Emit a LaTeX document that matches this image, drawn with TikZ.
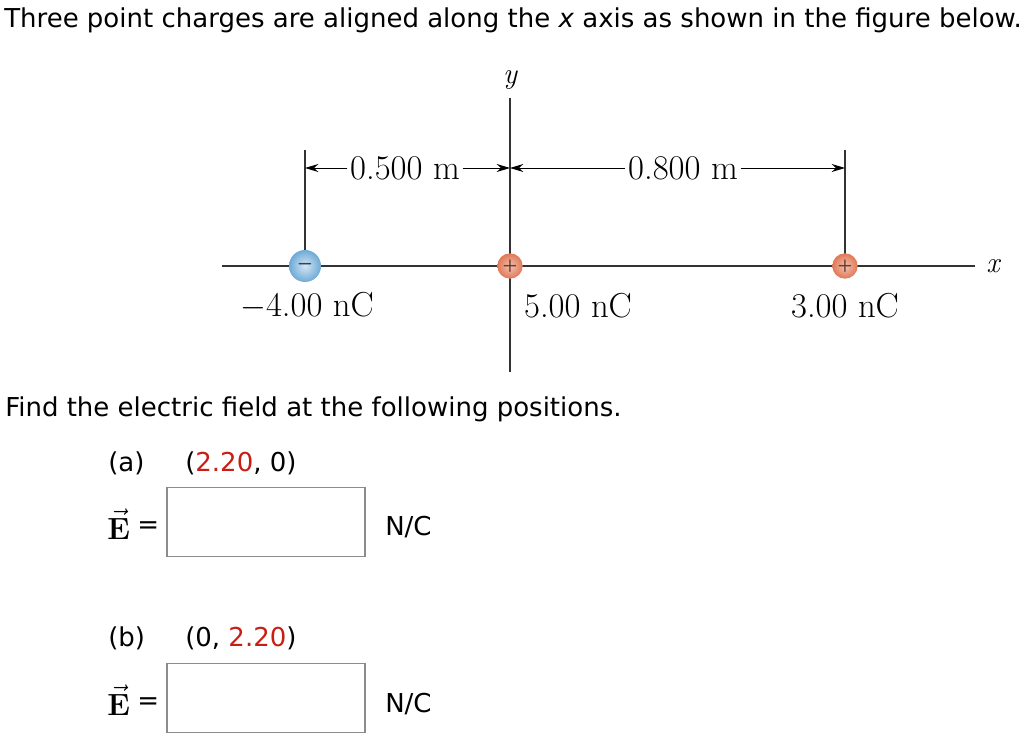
\documentclass[tikz,border=0pt]{standalone}
\usepackage{fontspec}
\setmainfont{Latin Modern Roman}
\newfontfamily\uifont{DejaVu Sans}
\usetikzlibrary{arrows.meta}
\definecolor{ansred}{RGB}{200,30,20}
\definecolor{negc}{RGB}{110,170,215}
\definecolor{posc}{RGB}{225,120,85}
\tikzset{
  ui/.style={font=\uifont\fontsize{19.5}{23}\selectfont, anchor=west, inner sep=0},
  lab/.style={font=\fontsize{26}{30}\selectfont, inner sep=0},
  dim/.style={-{Stealth[length=10pt,width=6pt]}, line width=0.7pt},
  ax/.style={line width=1pt, black!80},
  ansbox/.style={draw=black!45, line width=0.8pt, minimum width=148.5pt, minimum height=52pt, inner sep=0},
  charge/.style={circle, inner sep=0, font=\sffamily\bfseries\fontsize{13}{13}\selectfont},
  evec/.style={font=\fontsize{23}{26}\selectfont, anchor=west, inner sep=0}
}
\begin{document}
\begin{tikzpicture}[x=0.75pt,y=-0.75pt]
\useasboundingbox (0,0) rectangle (1036,748);
\node[ui] (title) at (4,20) {Three point charges are aligned along the \textit{x} axis as shown in the figure below.};
% axes
\coordinate (xl) at (222,266); \coordinate (xr) at (975,266);
\draw[ax] (xl) -- (xr);
\node[lab, font=\itshape\fontsize{22}{26}\selectfont] (xlab) at (993,266) {x};
\coordinate (yt) at (510,98); \coordinate (yb) at (510,372);
\draw[ax] (yt) -- (yb);
\node[lab, font=\itshape\fontsize{22}{26}\selectfont] (ylab) at (510,80) {y};
% ticks
\coordinate (t1a) at (305,150); \coordinate (t1b) at (305,256);
\coordinate (t2a) at (845,150); \coordinate (t2b) at (845,256);
\draw[ax] (t1a) -- (t1b);
\draw[ax] (t2a) -- (t2b);
% dimensions
\node[lab, inner xsep=2pt] (d1) at (405,168) {0.500 m};
\node[lab, inner xsep=2pt] (d2) at (683,168) {0.800 m};
\coordinate (p1) at (305,168); \coordinate (p0) at (510,168); \coordinate (p2) at (845,168);
\draw[dim] (d1.west) -- (p1);
\draw[dim] (d1.east) -- (p0);
\draw[dim] (d2.west) -- (p0);
\draw[dim] (d2.east) -- (p2);
% charges
\node[charge, minimum size=24pt, shade, inner color=negc!30, outer color=negc, text=negc!40!black] (q1) at (305,266) {\textminus};
\node[charge, minimum size=19pt, shade, inner color=posc!45, outer color=posc, text=posc!50!black] (q2) at (510,266) {+};
\node[charge, minimum size=19pt, shade, inner color=posc!45, outer color=posc, text=posc!50!black] (q3) at (845,266) {+};
\node[lab] (l1) at (307,306) {$-$4.00 nC};
\node[lab] (l2) at (578,306) {5.00 nC};
\node[lab] (l3) at (845,306) {3.00 nC};
% questions
\node[ui] (find) at (5,409) {Find the electric field at the following positions.};
\node[ui] (qa) at (108,463) {(a)};
\node[ui] (pa) at (185,463) {(\textcolor{ansred}{2.20}, 0)};
\node[evec] (ea) at (107,524) {$\vec{\mathbf{E}}$};
\node[ui] (eqa) at (137,528) {=};
\node[ansbox] (ba) at (266,522) {};
\node[ui] (ua) at (385,527) {N/C};
\node[ui] (qb) at (108,638) {(b)};
\node[ui] (pb) at (185,638) {(0, \textcolor{ansred}{2.20})};
\node[evec] (eb) at (107,700) {$\vec{\mathbf{E}}$};
\node[ui] (eqb) at (137,704) {=};
\node[ansbox] (bb) at (266,698) {};
\node[ui] (ub) at (385,704) {N/C};
\end{tikzpicture}
\end{document}
